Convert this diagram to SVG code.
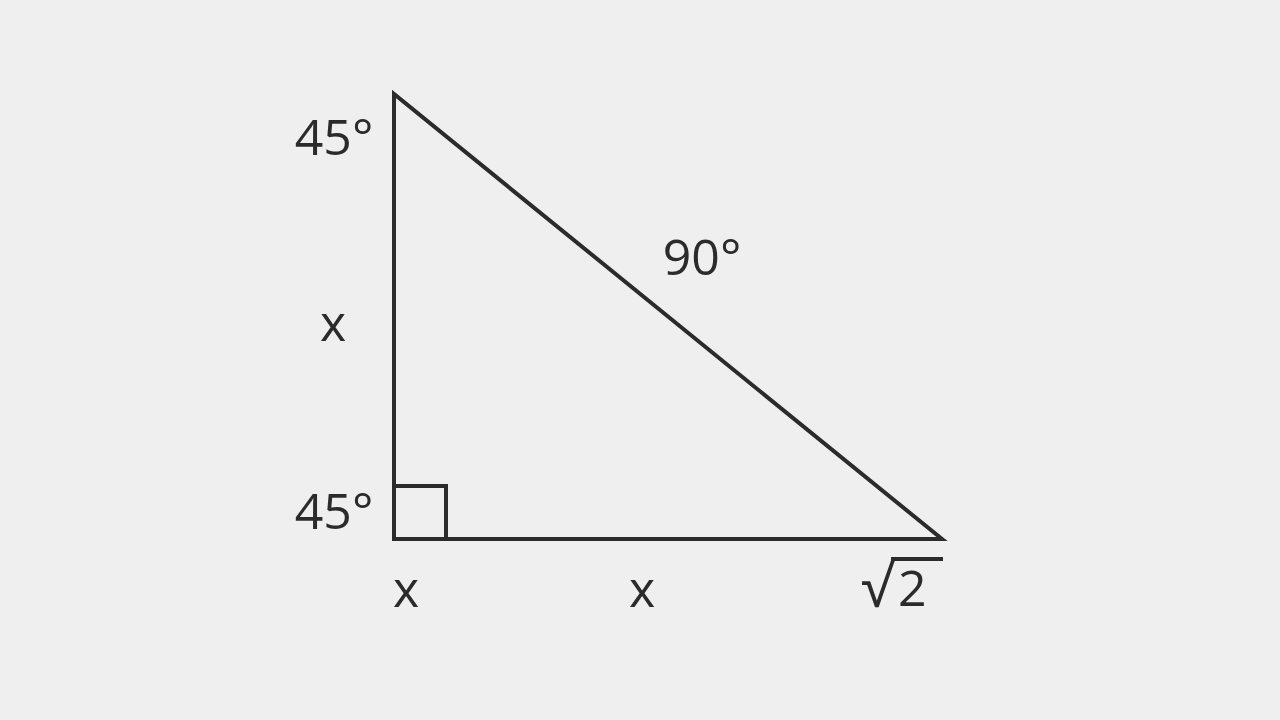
<svg xmlns="http://www.w3.org/2000/svg" width="1280" height="720" viewBox="0 0 1280 720">
<style>
.t{font-family:"Open Sans","Noto Sans","Liberation Sans",sans-serif;font-size:50px;fill:#2b2b2b}
.s{fill:none;stroke:#2b2b2b;stroke-width:4;stroke-linejoin:miter;stroke-linecap:square}
</style>
<rect width="1280" height="720" fill="#efefef"/>
<g id="triangle">
<polygon class="s" points="394,94 394,539 942,539"/>
<polyline class="s" points="396,486 446,486 446,537" stroke-width="3.5"/>
</g>
<g id="labels">
<text class="t" x="334" y="155" text-anchor="middle">45°</text>
<text class="t" x="334" y="529" text-anchor="middle">45°</text>
<text class="t" x="333" y="341" text-anchor="middle">x</text>
<text class="t" x="406" y="607" text-anchor="middle">x</text>
<text class="t" x="642" y="607" text-anchor="middle">x</text>
<text class="t" x="702" y="275" text-anchor="middle">90°</text>
<text class="t" x="861" y="607" style="font-size:58px">√</text>
<text class="t" x="898" y="606">2</text>
<line class="s" x1="893" y1="559" x2="941" y2="559" stroke-width="3.5"/>
</g>
</svg>
